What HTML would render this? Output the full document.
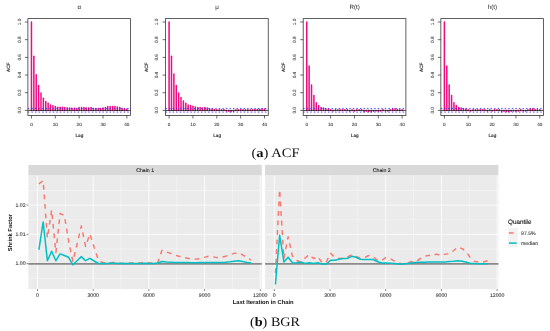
<!DOCTYPE html>
<html lang="en"><head><meta charset="utf-8"><title>Figure: ACF and BGR diagnostics</title>
<style>
html,body{margin:0;padding:0;background:#fff;}
body{width:550px;height:331px;overflow:hidden;}
svg{display:block;}
text{font-family:"Liberation Sans", Arial, Helvetica, sans-serif;text-rendering:geometricPrecision;}
.cap{font-family:"Liberation Serif", "Times New Roman", serif;font-size:13px;fill:#111;}
.ax{font-size:4.65px;fill:#3a3a3a;stroke:#3a3a3a;stroke-width:0.08px;}
.lab{font-size:4.7px;fill:#222;stroke:#222;stroke-width:0.15px;}
.ttl{font-size:6.2px;fill:#222;}
.gt{font-size:5.2px;fill:#444;stroke:#444;stroke-width:0.12px;}
.gb{font-size:5.8px;font-weight:bold;fill:#111;}
.st{font-size:5.2px;fill:#1a1a1a;stroke:#1a1a1a;stroke-width:0.1px;}
</style></head><body>
<svg width="550" height="331" viewBox="0 0 550 331">
<rect width="550" height="331" fill="#fff"/>
<defs><filter id="soft" x="0" y="0" width="550" height="331" filterUnits="userSpaceOnUse"><feGaussianBlur stdDeviation="0.32"/></filter></defs>
<g filter="url(#soft)">

<g>
<text class="ttl" x="79.4" y="9.2" text-anchor="middle">α</text>
<line x1="31.45" y1="22.00" x2="31.45" y2="110.40" stroke="#ee0a80" stroke-width="1.5" stroke-linecap="round"/>
<line x1="33.84" y1="56.30" x2="33.84" y2="110.40" stroke="#ee0a80" stroke-width="1.5" stroke-linecap="round"/>
<line x1="36.22" y1="74.86" x2="36.22" y2="110.40" stroke="#ee0a80" stroke-width="1.5" stroke-linecap="round"/>
<line x1="38.60" y1="85.47" x2="38.60" y2="110.40" stroke="#ee0a80" stroke-width="1.5" stroke-linecap="round"/>
<line x1="40.99" y1="92.99" x2="40.99" y2="110.40" stroke="#ee0a80" stroke-width="1.5" stroke-linecap="round"/>
<line x1="43.38" y1="98.29" x2="43.38" y2="110.40" stroke="#ee0a80" stroke-width="1.5" stroke-linecap="round"/>
<line x1="45.76" y1="101.38" x2="45.76" y2="110.40" stroke="#ee0a80" stroke-width="1.5" stroke-linecap="round"/>
<line x1="48.14" y1="103.33" x2="48.14" y2="110.40" stroke="#ee0a80" stroke-width="1.5" stroke-linecap="round"/>
<line x1="50.53" y1="105.10" x2="50.53" y2="110.40" stroke="#ee0a80" stroke-width="1.5" stroke-linecap="round"/>
<line x1="52.91" y1="105.63" x2="52.91" y2="110.40" stroke="#ee0a80" stroke-width="1.5" stroke-linecap="round"/>
<line x1="55.30" y1="106.51" x2="55.30" y2="110.40" stroke="#ee0a80" stroke-width="1.5" stroke-linecap="round"/>
<line x1="57.69" y1="107.13" x2="57.69" y2="110.40" stroke="#ee0a80" stroke-width="1.5" stroke-linecap="round"/>
<line x1="60.07" y1="107.22" x2="60.07" y2="110.40" stroke="#ee0a80" stroke-width="1.5" stroke-linecap="round"/>
<line x1="62.45" y1="107.22" x2="62.45" y2="110.40" stroke="#ee0a80" stroke-width="1.5" stroke-linecap="round"/>
<line x1="64.84" y1="107.57" x2="64.84" y2="110.40" stroke="#ee0a80" stroke-width="1.5" stroke-linecap="round"/>
<line x1="67.22" y1="107.84" x2="67.22" y2="110.40" stroke="#ee0a80" stroke-width="1.5" stroke-linecap="round"/>
<line x1="69.61" y1="108.01" x2="69.61" y2="110.40" stroke="#ee0a80" stroke-width="1.5" stroke-linecap="round"/>
<line x1="71.99" y1="108.28" x2="71.99" y2="110.40" stroke="#ee0a80" stroke-width="1.5" stroke-linecap="round"/>
<line x1="74.38" y1="108.28" x2="74.38" y2="110.40" stroke="#ee0a80" stroke-width="1.5" stroke-linecap="round"/>
<line x1="76.77" y1="108.54" x2="76.77" y2="110.40" stroke="#ee0a80" stroke-width="1.5" stroke-linecap="round"/>
<line x1="79.15" y1="107.39" x2="79.15" y2="110.40" stroke="#ee0a80" stroke-width="1.5" stroke-linecap="round"/>
<line x1="81.53" y1="107.39" x2="81.53" y2="110.40" stroke="#ee0a80" stroke-width="1.5" stroke-linecap="round"/>
<line x1="83.92" y1="107.57" x2="83.92" y2="110.40" stroke="#ee0a80" stroke-width="1.5" stroke-linecap="round"/>
<line x1="86.30" y1="108.10" x2="86.30" y2="110.40" stroke="#ee0a80" stroke-width="1.5" stroke-linecap="round"/>
<line x1="88.69" y1="108.10" x2="88.69" y2="110.40" stroke="#ee0a80" stroke-width="1.5" stroke-linecap="round"/>
<line x1="91.07" y1="107.57" x2="91.07" y2="110.40" stroke="#ee0a80" stroke-width="1.5" stroke-linecap="round"/>
<line x1="93.46" y1="108.46" x2="93.46" y2="110.40" stroke="#ee0a80" stroke-width="1.5" stroke-linecap="round"/>
<line x1="95.84" y1="108.46" x2="95.84" y2="110.40" stroke="#ee0a80" stroke-width="1.5" stroke-linecap="round"/>
<line x1="98.23" y1="108.46" x2="98.23" y2="110.40" stroke="#ee0a80" stroke-width="1.5" stroke-linecap="round"/>
<line x1="100.61" y1="108.46" x2="100.61" y2="110.40" stroke="#ee0a80" stroke-width="1.5" stroke-linecap="round"/>
<line x1="103.00" y1="108.01" x2="103.00" y2="110.40" stroke="#ee0a80" stroke-width="1.5" stroke-linecap="round"/>
<line x1="105.38" y1="107.39" x2="105.38" y2="110.40" stroke="#ee0a80" stroke-width="1.5" stroke-linecap="round"/>
<line x1="107.77" y1="106.51" x2="107.77" y2="110.40" stroke="#ee0a80" stroke-width="1.5" stroke-linecap="round"/>
<line x1="110.16" y1="106.51" x2="110.16" y2="110.40" stroke="#ee0a80" stroke-width="1.5" stroke-linecap="round"/>
<line x1="112.54" y1="106.51" x2="112.54" y2="110.40" stroke="#ee0a80" stroke-width="1.5" stroke-linecap="round"/>
<line x1="114.92" y1="106.51" x2="114.92" y2="110.40" stroke="#ee0a80" stroke-width="1.5" stroke-linecap="round"/>
<line x1="117.31" y1="106.95" x2="117.31" y2="110.40" stroke="#ee0a80" stroke-width="1.5" stroke-linecap="round"/>
<line x1="119.69" y1="107.39" x2="119.69" y2="110.40" stroke="#ee0a80" stroke-width="1.5" stroke-linecap="round"/>
<line x1="122.08" y1="108.46" x2="122.08" y2="110.40" stroke="#ee0a80" stroke-width="1.5" stroke-linecap="round"/>
<line x1="124.46" y1="108.99" x2="124.46" y2="110.40" stroke="#ee0a80" stroke-width="1.5" stroke-linecap="round"/>
<line x1="126.85" y1="108.99" x2="126.85" y2="110.40" stroke="#ee0a80" stroke-width="1.5" stroke-linecap="round"/>
<line x1="27.90" y1="110.4" x2="130.60" y2="110.4" stroke="#111" stroke-width="0.9" stroke-opacity="0.88"/>
<line x1="27.90" y1="108.45" x2="130.60" y2="108.45" stroke="#2a2aff" stroke-width="1.0" stroke-opacity="0.85" stroke-dasharray="1.4 2.15"/>
<line x1="27.90" y1="112.1" x2="130.60" y2="112.1" stroke="#2a2aff" stroke-width="1.0" stroke-opacity="0.85" stroke-dasharray="1.4 2.15"/>
<rect x="27.90" y="18.6" width="102.7" height="96.90" fill="none" stroke="#3a3a3a" stroke-width="0.8"/>
<line x1="24.90" y1="110.40" x2="27.90" y2="110.40" stroke="#2b2b2b" stroke-width="0.7"/>
<text class="ax" transform="translate(20.60,110.40) rotate(-90)" text-anchor="middle">0.0</text>
<line x1="24.90" y1="92.72" x2="27.90" y2="92.72" stroke="#2b2b2b" stroke-width="0.7"/>
<text class="ax" transform="translate(20.60,92.72) rotate(-90)" text-anchor="middle">0.2</text>
<line x1="24.90" y1="75.04" x2="27.90" y2="75.04" stroke="#2b2b2b" stroke-width="0.7"/>
<text class="ax" transform="translate(20.60,75.04) rotate(-90)" text-anchor="middle">0.4</text>
<line x1="24.90" y1="57.36" x2="27.90" y2="57.36" stroke="#2b2b2b" stroke-width="0.7"/>
<text class="ax" transform="translate(20.60,57.36) rotate(-90)" text-anchor="middle">0.6</text>
<line x1="24.90" y1="39.68" x2="27.90" y2="39.68" stroke="#2b2b2b" stroke-width="0.7"/>
<text class="ax" transform="translate(20.60,39.68) rotate(-90)" text-anchor="middle">0.8</text>
<line x1="24.90" y1="22.00" x2="27.90" y2="22.00" stroke="#2b2b2b" stroke-width="0.7"/>
<text class="ax" transform="translate(20.60,22.00) rotate(-90)" text-anchor="middle">1.0</text>
<line x1="31.45" y1="115.5" x2="31.45" y2="118.5" stroke="#2b2b2b" stroke-width="0.7"/>
<text class="ax" x="31.45" y="125.70" text-anchor="middle">0</text>
<line x1="55.30" y1="115.5" x2="55.30" y2="118.5" stroke="#2b2b2b" stroke-width="0.7"/>
<text class="ax" x="55.30" y="125.70" text-anchor="middle">10</text>
<line x1="79.15" y1="115.5" x2="79.15" y2="118.5" stroke="#2b2b2b" stroke-width="0.7"/>
<text class="ax" x="79.15" y="125.70" text-anchor="middle">20</text>
<line x1="103.00" y1="115.5" x2="103.00" y2="118.5" stroke="#2b2b2b" stroke-width="0.7"/>
<text class="ax" x="103.00" y="125.70" text-anchor="middle">30</text>
<line x1="126.85" y1="115.5" x2="126.85" y2="118.5" stroke="#2b2b2b" stroke-width="0.7"/>
<text class="ax" x="126.85" y="125.70" text-anchor="middle">40</text>
<text class="lab" x="79.4" y="137.3" text-anchor="middle">Lag</text>
<text class="lab" transform="translate(9.90,67.2) rotate(-90)" text-anchor="middle">ACF</text>
</g>
<g>
<text class="ttl" x="217.1" y="9.2" text-anchor="middle">μ</text>
<line x1="169.10" y1="22.00" x2="169.10" y2="110.40" stroke="#ee0a80" stroke-width="1.5" stroke-linecap="round"/>
<line x1="171.49" y1="56.30" x2="171.49" y2="110.40" stroke="#ee0a80" stroke-width="1.5" stroke-linecap="round"/>
<line x1="173.87" y1="73.98" x2="173.87" y2="110.40" stroke="#ee0a80" stroke-width="1.5" stroke-linecap="round"/>
<line x1="176.26" y1="85.47" x2="176.26" y2="110.40" stroke="#ee0a80" stroke-width="1.5" stroke-linecap="round"/>
<line x1="178.64" y1="93.07" x2="178.64" y2="110.40" stroke="#ee0a80" stroke-width="1.5" stroke-linecap="round"/>
<line x1="181.03" y1="97.49" x2="181.03" y2="110.40" stroke="#ee0a80" stroke-width="1.5" stroke-linecap="round"/>
<line x1="183.41" y1="101.12" x2="183.41" y2="110.40" stroke="#ee0a80" stroke-width="1.5" stroke-linecap="round"/>
<line x1="185.80" y1="103.15" x2="185.80" y2="110.40" stroke="#ee0a80" stroke-width="1.5" stroke-linecap="round"/>
<line x1="188.18" y1="105.10" x2="188.18" y2="110.40" stroke="#ee0a80" stroke-width="1.5" stroke-linecap="round"/>
<line x1="190.57" y1="105.54" x2="190.57" y2="110.40" stroke="#ee0a80" stroke-width="1.5" stroke-linecap="round"/>
<line x1="192.95" y1="106.16" x2="192.95" y2="110.40" stroke="#ee0a80" stroke-width="1.5" stroke-linecap="round"/>
<line x1="195.34" y1="107.04" x2="195.34" y2="110.40" stroke="#ee0a80" stroke-width="1.5" stroke-linecap="round"/>
<line x1="197.72" y1="107.57" x2="197.72" y2="110.40" stroke="#ee0a80" stroke-width="1.5" stroke-linecap="round"/>
<line x1="200.11" y1="107.57" x2="200.11" y2="110.40" stroke="#ee0a80" stroke-width="1.5" stroke-linecap="round"/>
<line x1="202.49" y1="107.92" x2="202.49" y2="110.40" stroke="#ee0a80" stroke-width="1.5" stroke-linecap="round"/>
<line x1="204.88" y1="107.57" x2="204.88" y2="110.40" stroke="#ee0a80" stroke-width="1.5" stroke-linecap="round"/>
<line x1="207.26" y1="107.92" x2="207.26" y2="110.40" stroke="#ee0a80" stroke-width="1.5" stroke-linecap="round"/>
<line x1="209.65" y1="108.63" x2="209.65" y2="110.40" stroke="#ee0a80" stroke-width="1.5" stroke-linecap="round"/>
<line x1="212.03" y1="109.16" x2="212.03" y2="110.40" stroke="#ee0a80" stroke-width="1.5" stroke-linecap="round"/>
<line x1="214.42" y1="109.60" x2="214.42" y2="110.40" stroke="#ee0a80" stroke-width="1.5" stroke-linecap="round"/>
<line x1="216.80" y1="109.78" x2="216.80" y2="110.40" stroke="#ee0a80" stroke-width="1.5" stroke-linecap="round"/>
<line x1="219.19" y1="109.78" x2="219.19" y2="110.40" stroke="#ee0a80" stroke-width="1.5" stroke-linecap="round"/>
<line x1="221.57" y1="109.78" x2="221.57" y2="110.40" stroke="#ee0a80" stroke-width="1.5" stroke-linecap="round"/>
<line x1="223.96" y1="109.78" x2="223.96" y2="110.40" stroke="#ee0a80" stroke-width="1.5" stroke-linecap="round"/>
<line x1="226.34" y1="111.02" x2="226.34" y2="110.40" stroke="#ee0a80" stroke-width="1.5" stroke-linecap="round"/>
<line x1="228.73" y1="111.20" x2="228.73" y2="110.40" stroke="#ee0a80" stroke-width="1.5" stroke-linecap="round"/>
<line x1="231.11" y1="111.64" x2="231.11" y2="110.40" stroke="#ee0a80" stroke-width="1.5" stroke-linecap="round"/>
<line x1="233.50" y1="111.20" x2="233.50" y2="110.40" stroke="#ee0a80" stroke-width="1.5" stroke-linecap="round"/>
<line x1="235.88" y1="109.78" x2="235.88" y2="110.40" stroke="#ee0a80" stroke-width="1.5" stroke-linecap="round"/>
<line x1="238.27" y1="109.78" x2="238.27" y2="110.40" stroke="#ee0a80" stroke-width="1.5" stroke-linecap="round"/>
<line x1="240.65" y1="109.78" x2="240.65" y2="110.40" stroke="#ee0a80" stroke-width="1.5" stroke-linecap="round"/>
<line x1="243.04" y1="109.78" x2="243.04" y2="110.40" stroke="#ee0a80" stroke-width="1.5" stroke-linecap="round"/>
<line x1="245.42" y1="109.78" x2="245.42" y2="110.40" stroke="#ee0a80" stroke-width="1.5" stroke-linecap="round"/>
<line x1="247.81" y1="109.78" x2="247.81" y2="110.40" stroke="#ee0a80" stroke-width="1.5" stroke-linecap="round"/>
<line x1="250.19" y1="109.78" x2="250.19" y2="110.40" stroke="#ee0a80" stroke-width="1.5" stroke-linecap="round"/>
<line x1="252.58" y1="109.78" x2="252.58" y2="110.40" stroke="#ee0a80" stroke-width="1.5" stroke-linecap="round"/>
<line x1="254.96" y1="109.60" x2="254.96" y2="110.40" stroke="#ee0a80" stroke-width="1.5" stroke-linecap="round"/>
<line x1="257.35" y1="109.60" x2="257.35" y2="110.40" stroke="#ee0a80" stroke-width="1.5" stroke-linecap="round"/>
<line x1="259.73" y1="109.16" x2="259.73" y2="110.40" stroke="#ee0a80" stroke-width="1.5" stroke-linecap="round"/>
<line x1="262.12" y1="108.99" x2="262.12" y2="110.40" stroke="#ee0a80" stroke-width="1.5" stroke-linecap="round"/>
<line x1="264.50" y1="108.99" x2="264.50" y2="110.40" stroke="#ee0a80" stroke-width="1.5" stroke-linecap="round"/>
<line x1="165.55" y1="110.4" x2="268.25" y2="110.4" stroke="#111" stroke-width="0.9" stroke-opacity="0.88"/>
<line x1="165.55" y1="108.45" x2="268.25" y2="108.45" stroke="#2a2aff" stroke-width="1.0" stroke-opacity="0.85" stroke-dasharray="1.4 2.15"/>
<line x1="165.55" y1="112.1" x2="268.25" y2="112.1" stroke="#2a2aff" stroke-width="1.0" stroke-opacity="0.85" stroke-dasharray="1.4 2.15"/>
<rect x="165.55" y="18.6" width="102.7" height="96.90" fill="none" stroke="#3a3a3a" stroke-width="0.8"/>
<line x1="162.55" y1="110.40" x2="165.55" y2="110.40" stroke="#2b2b2b" stroke-width="0.7"/>
<text class="ax" transform="translate(158.25,110.40) rotate(-90)" text-anchor="middle">0.0</text>
<line x1="162.55" y1="92.72" x2="165.55" y2="92.72" stroke="#2b2b2b" stroke-width="0.7"/>
<text class="ax" transform="translate(158.25,92.72) rotate(-90)" text-anchor="middle">0.2</text>
<line x1="162.55" y1="75.04" x2="165.55" y2="75.04" stroke="#2b2b2b" stroke-width="0.7"/>
<text class="ax" transform="translate(158.25,75.04) rotate(-90)" text-anchor="middle">0.4</text>
<line x1="162.55" y1="57.36" x2="165.55" y2="57.36" stroke="#2b2b2b" stroke-width="0.7"/>
<text class="ax" transform="translate(158.25,57.36) rotate(-90)" text-anchor="middle">0.6</text>
<line x1="162.55" y1="39.68" x2="165.55" y2="39.68" stroke="#2b2b2b" stroke-width="0.7"/>
<text class="ax" transform="translate(158.25,39.68) rotate(-90)" text-anchor="middle">0.8</text>
<line x1="162.55" y1="22.00" x2="165.55" y2="22.00" stroke="#2b2b2b" stroke-width="0.7"/>
<text class="ax" transform="translate(158.25,22.00) rotate(-90)" text-anchor="middle">1.0</text>
<line x1="169.10" y1="115.5" x2="169.10" y2="118.5" stroke="#2b2b2b" stroke-width="0.7"/>
<text class="ax" x="169.10" y="125.70" text-anchor="middle">0</text>
<line x1="192.95" y1="115.5" x2="192.95" y2="118.5" stroke="#2b2b2b" stroke-width="0.7"/>
<text class="ax" x="192.95" y="125.70" text-anchor="middle">10</text>
<line x1="216.80" y1="115.5" x2="216.80" y2="118.5" stroke="#2b2b2b" stroke-width="0.7"/>
<text class="ax" x="216.80" y="125.70" text-anchor="middle">20</text>
<line x1="240.65" y1="115.5" x2="240.65" y2="118.5" stroke="#2b2b2b" stroke-width="0.7"/>
<text class="ax" x="240.65" y="125.70" text-anchor="middle">30</text>
<line x1="264.50" y1="115.5" x2="264.50" y2="118.5" stroke="#2b2b2b" stroke-width="0.7"/>
<text class="ax" x="264.50" y="125.70" text-anchor="middle">40</text>
<text class="lab" x="217.1" y="137.3" text-anchor="middle">Lag</text>
<text class="lab" transform="translate(147.55,67.2) rotate(-90)" text-anchor="middle">ACF</text>
</g>
<g>
<text class="ttl" x="354.7" y="9.2" text-anchor="middle">R(t)</text>
<line x1="306.75" y1="22.00" x2="306.75" y2="110.40" stroke="#ee0a80" stroke-width="1.5" stroke-linecap="round"/>
<line x1="309.13" y1="66.02" x2="309.13" y2="110.40" stroke="#ee0a80" stroke-width="1.5" stroke-linecap="round"/>
<line x1="311.52" y1="85.12" x2="311.52" y2="110.40" stroke="#ee0a80" stroke-width="1.5" stroke-linecap="round"/>
<line x1="313.90" y1="95.55" x2="313.90" y2="110.40" stroke="#ee0a80" stroke-width="1.5" stroke-linecap="round"/>
<line x1="316.29" y1="102.71" x2="316.29" y2="110.40" stroke="#ee0a80" stroke-width="1.5" stroke-linecap="round"/>
<line x1="318.68" y1="105.54" x2="318.68" y2="110.40" stroke="#ee0a80" stroke-width="1.5" stroke-linecap="round"/>
<line x1="321.06" y1="107.57" x2="321.06" y2="110.40" stroke="#ee0a80" stroke-width="1.5" stroke-linecap="round"/>
<line x1="323.44" y1="107.92" x2="323.44" y2="110.40" stroke="#ee0a80" stroke-width="1.5" stroke-linecap="round"/>
<line x1="325.83" y1="108.63" x2="325.83" y2="110.40" stroke="#ee0a80" stroke-width="1.5" stroke-linecap="round"/>
<line x1="328.21" y1="108.99" x2="328.21" y2="110.40" stroke="#ee0a80" stroke-width="1.5" stroke-linecap="round"/>
<line x1="330.60" y1="109.78" x2="330.60" y2="110.40" stroke="#ee0a80" stroke-width="1.5" stroke-linecap="round"/>
<line x1="332.99" y1="111.02" x2="332.99" y2="110.40" stroke="#ee0a80" stroke-width="1.5" stroke-linecap="round"/>
<line x1="335.37" y1="109.78" x2="335.37" y2="110.40" stroke="#ee0a80" stroke-width="1.5" stroke-linecap="round"/>
<line x1="337.75" y1="109.78" x2="337.75" y2="110.40" stroke="#ee0a80" stroke-width="1.5" stroke-linecap="round"/>
<line x1="340.14" y1="109.78" x2="340.14" y2="110.40" stroke="#ee0a80" stroke-width="1.5" stroke-linecap="round"/>
<line x1="342.52" y1="109.78" x2="342.52" y2="110.40" stroke="#ee0a80" stroke-width="1.5" stroke-linecap="round"/>
<line x1="344.91" y1="109.78" x2="344.91" y2="110.40" stroke="#ee0a80" stroke-width="1.5" stroke-linecap="round"/>
<line x1="347.30" y1="109.78" x2="347.30" y2="110.40" stroke="#ee0a80" stroke-width="1.5" stroke-linecap="round"/>
<line x1="349.68" y1="111.02" x2="349.68" y2="110.40" stroke="#ee0a80" stroke-width="1.5" stroke-linecap="round"/>
<line x1="352.06" y1="109.78" x2="352.06" y2="110.40" stroke="#ee0a80" stroke-width="1.5" stroke-linecap="round"/>
<line x1="354.45" y1="111.02" x2="354.45" y2="110.40" stroke="#ee0a80" stroke-width="1.5" stroke-linecap="round"/>
<line x1="356.83" y1="109.78" x2="356.83" y2="110.40" stroke="#ee0a80" stroke-width="1.5" stroke-linecap="round"/>
<line x1="359.22" y1="109.78" x2="359.22" y2="110.40" stroke="#ee0a80" stroke-width="1.5" stroke-linecap="round"/>
<line x1="361.61" y1="109.78" x2="361.61" y2="110.40" stroke="#ee0a80" stroke-width="1.5" stroke-linecap="round"/>
<line x1="363.99" y1="111.64" x2="363.99" y2="110.40" stroke="#ee0a80" stroke-width="1.5" stroke-linecap="round"/>
<line x1="366.38" y1="111.20" x2="366.38" y2="110.40" stroke="#ee0a80" stroke-width="1.5" stroke-linecap="round"/>
<line x1="368.76" y1="111.64" x2="368.76" y2="110.40" stroke="#ee0a80" stroke-width="1.5" stroke-linecap="round"/>
<line x1="371.14" y1="111.81" x2="371.14" y2="110.40" stroke="#ee0a80" stroke-width="1.5" stroke-linecap="round"/>
<line x1="373.53" y1="111.20" x2="373.53" y2="110.40" stroke="#ee0a80" stroke-width="1.5" stroke-linecap="round"/>
<line x1="375.91" y1="111.02" x2="375.91" y2="110.40" stroke="#ee0a80" stroke-width="1.5" stroke-linecap="round"/>
<line x1="378.30" y1="111.20" x2="378.30" y2="110.40" stroke="#ee0a80" stroke-width="1.5" stroke-linecap="round"/>
<line x1="380.69" y1="111.02" x2="380.69" y2="110.40" stroke="#ee0a80" stroke-width="1.5" stroke-linecap="round"/>
<line x1="383.07" y1="109.78" x2="383.07" y2="110.40" stroke="#ee0a80" stroke-width="1.5" stroke-linecap="round"/>
<line x1="385.45" y1="111.02" x2="385.45" y2="110.40" stroke="#ee0a80" stroke-width="1.5" stroke-linecap="round"/>
<line x1="387.84" y1="111.02" x2="387.84" y2="110.40" stroke="#ee0a80" stroke-width="1.5" stroke-linecap="round"/>
<line x1="390.23" y1="109.78" x2="390.23" y2="110.40" stroke="#ee0a80" stroke-width="1.5" stroke-linecap="round"/>
<line x1="392.61" y1="108.99" x2="392.61" y2="110.40" stroke="#ee0a80" stroke-width="1.5" stroke-linecap="round"/>
<line x1="395.00" y1="108.63" x2="395.00" y2="110.40" stroke="#ee0a80" stroke-width="1.5" stroke-linecap="round"/>
<line x1="397.38" y1="109.60" x2="397.38" y2="110.40" stroke="#ee0a80" stroke-width="1.5" stroke-linecap="round"/>
<line x1="399.76" y1="109.78" x2="399.76" y2="110.40" stroke="#ee0a80" stroke-width="1.5" stroke-linecap="round"/>
<line x1="402.15" y1="109.78" x2="402.15" y2="110.40" stroke="#ee0a80" stroke-width="1.5" stroke-linecap="round"/>
<line x1="303.20" y1="110.4" x2="405.90" y2="110.4" stroke="#111" stroke-width="0.9" stroke-opacity="0.88"/>
<line x1="303.20" y1="108.45" x2="405.90" y2="108.45" stroke="#2a2aff" stroke-width="1.0" stroke-opacity="0.85" stroke-dasharray="1.4 2.15"/>
<line x1="303.20" y1="112.1" x2="405.90" y2="112.1" stroke="#2a2aff" stroke-width="1.0" stroke-opacity="0.85" stroke-dasharray="1.4 2.15"/>
<rect x="303.20" y="18.6" width="102.7" height="96.90" fill="none" stroke="#3a3a3a" stroke-width="0.8"/>
<line x1="300.20" y1="110.40" x2="303.20" y2="110.40" stroke="#2b2b2b" stroke-width="0.7"/>
<text class="ax" transform="translate(295.90,110.40) rotate(-90)" text-anchor="middle">0.0</text>
<line x1="300.20" y1="92.72" x2="303.20" y2="92.72" stroke="#2b2b2b" stroke-width="0.7"/>
<text class="ax" transform="translate(295.90,92.72) rotate(-90)" text-anchor="middle">0.2</text>
<line x1="300.20" y1="75.04" x2="303.20" y2="75.04" stroke="#2b2b2b" stroke-width="0.7"/>
<text class="ax" transform="translate(295.90,75.04) rotate(-90)" text-anchor="middle">0.4</text>
<line x1="300.20" y1="57.36" x2="303.20" y2="57.36" stroke="#2b2b2b" stroke-width="0.7"/>
<text class="ax" transform="translate(295.90,57.36) rotate(-90)" text-anchor="middle">0.6</text>
<line x1="300.20" y1="39.68" x2="303.20" y2="39.68" stroke="#2b2b2b" stroke-width="0.7"/>
<text class="ax" transform="translate(295.90,39.68) rotate(-90)" text-anchor="middle">0.8</text>
<line x1="300.20" y1="22.00" x2="303.20" y2="22.00" stroke="#2b2b2b" stroke-width="0.7"/>
<text class="ax" transform="translate(295.90,22.00) rotate(-90)" text-anchor="middle">1.0</text>
<line x1="306.75" y1="115.5" x2="306.75" y2="118.5" stroke="#2b2b2b" stroke-width="0.7"/>
<text class="ax" x="306.75" y="125.70" text-anchor="middle">0</text>
<line x1="330.60" y1="115.5" x2="330.60" y2="118.5" stroke="#2b2b2b" stroke-width="0.7"/>
<text class="ax" x="330.60" y="125.70" text-anchor="middle">10</text>
<line x1="354.45" y1="115.5" x2="354.45" y2="118.5" stroke="#2b2b2b" stroke-width="0.7"/>
<text class="ax" x="354.45" y="125.70" text-anchor="middle">20</text>
<line x1="378.30" y1="115.5" x2="378.30" y2="118.5" stroke="#2b2b2b" stroke-width="0.7"/>
<text class="ax" x="378.30" y="125.70" text-anchor="middle">30</text>
<line x1="402.15" y1="115.5" x2="402.15" y2="118.5" stroke="#2b2b2b" stroke-width="0.7"/>
<text class="ax" x="402.15" y="125.70" text-anchor="middle">40</text>
<text class="lab" x="354.7" y="137.3" text-anchor="middle">Lag</text>
<text class="lab" transform="translate(285.20,67.2) rotate(-90)" text-anchor="middle">ACF</text>
</g>
<g>
<text class="ttl" x="492.4" y="9.2" text-anchor="middle">h(t)</text>
<line x1="444.40" y1="22.00" x2="444.40" y2="110.40" stroke="#ee0a80" stroke-width="1.5" stroke-linecap="round"/>
<line x1="446.79" y1="66.02" x2="446.79" y2="110.40" stroke="#ee0a80" stroke-width="1.5" stroke-linecap="round"/>
<line x1="449.17" y1="85.12" x2="449.17" y2="110.40" stroke="#ee0a80" stroke-width="1.5" stroke-linecap="round"/>
<line x1="451.56" y1="95.55" x2="451.56" y2="110.40" stroke="#ee0a80" stroke-width="1.5" stroke-linecap="round"/>
<line x1="453.94" y1="102.71" x2="453.94" y2="110.40" stroke="#ee0a80" stroke-width="1.5" stroke-linecap="round"/>
<line x1="456.33" y1="105.54" x2="456.33" y2="110.40" stroke="#ee0a80" stroke-width="1.5" stroke-linecap="round"/>
<line x1="458.71" y1="107.57" x2="458.71" y2="110.40" stroke="#ee0a80" stroke-width="1.5" stroke-linecap="round"/>
<line x1="461.10" y1="107.92" x2="461.10" y2="110.40" stroke="#ee0a80" stroke-width="1.5" stroke-linecap="round"/>
<line x1="463.48" y1="108.63" x2="463.48" y2="110.40" stroke="#ee0a80" stroke-width="1.5" stroke-linecap="round"/>
<line x1="465.87" y1="108.99" x2="465.87" y2="110.40" stroke="#ee0a80" stroke-width="1.5" stroke-linecap="round"/>
<line x1="468.25" y1="109.78" x2="468.25" y2="110.40" stroke="#ee0a80" stroke-width="1.5" stroke-linecap="round"/>
<line x1="470.64" y1="111.02" x2="470.64" y2="110.40" stroke="#ee0a80" stroke-width="1.5" stroke-linecap="round"/>
<line x1="473.02" y1="109.78" x2="473.02" y2="110.40" stroke="#ee0a80" stroke-width="1.5" stroke-linecap="round"/>
<line x1="475.41" y1="109.78" x2="475.41" y2="110.40" stroke="#ee0a80" stroke-width="1.5" stroke-linecap="round"/>
<line x1="477.79" y1="109.78" x2="477.79" y2="110.40" stroke="#ee0a80" stroke-width="1.5" stroke-linecap="round"/>
<line x1="480.18" y1="109.78" x2="480.18" y2="110.40" stroke="#ee0a80" stroke-width="1.5" stroke-linecap="round"/>
<line x1="482.56" y1="109.78" x2="482.56" y2="110.40" stroke="#ee0a80" stroke-width="1.5" stroke-linecap="round"/>
<line x1="484.95" y1="109.78" x2="484.95" y2="110.40" stroke="#ee0a80" stroke-width="1.5" stroke-linecap="round"/>
<line x1="487.33" y1="111.02" x2="487.33" y2="110.40" stroke="#ee0a80" stroke-width="1.5" stroke-linecap="round"/>
<line x1="489.72" y1="109.78" x2="489.72" y2="110.40" stroke="#ee0a80" stroke-width="1.5" stroke-linecap="round"/>
<line x1="492.10" y1="111.02" x2="492.10" y2="110.40" stroke="#ee0a80" stroke-width="1.5" stroke-linecap="round"/>
<line x1="494.49" y1="109.78" x2="494.49" y2="110.40" stroke="#ee0a80" stroke-width="1.5" stroke-linecap="round"/>
<line x1="496.87" y1="109.78" x2="496.87" y2="110.40" stroke="#ee0a80" stroke-width="1.5" stroke-linecap="round"/>
<line x1="499.26" y1="109.78" x2="499.26" y2="110.40" stroke="#ee0a80" stroke-width="1.5" stroke-linecap="round"/>
<line x1="501.64" y1="111.64" x2="501.64" y2="110.40" stroke="#ee0a80" stroke-width="1.5" stroke-linecap="round"/>
<line x1="504.03" y1="111.20" x2="504.03" y2="110.40" stroke="#ee0a80" stroke-width="1.5" stroke-linecap="round"/>
<line x1="506.41" y1="111.64" x2="506.41" y2="110.40" stroke="#ee0a80" stroke-width="1.5" stroke-linecap="round"/>
<line x1="508.80" y1="111.81" x2="508.80" y2="110.40" stroke="#ee0a80" stroke-width="1.5" stroke-linecap="round"/>
<line x1="511.18" y1="111.20" x2="511.18" y2="110.40" stroke="#ee0a80" stroke-width="1.5" stroke-linecap="round"/>
<line x1="513.57" y1="111.02" x2="513.57" y2="110.40" stroke="#ee0a80" stroke-width="1.5" stroke-linecap="round"/>
<line x1="515.95" y1="111.20" x2="515.95" y2="110.40" stroke="#ee0a80" stroke-width="1.5" stroke-linecap="round"/>
<line x1="518.34" y1="111.02" x2="518.34" y2="110.40" stroke="#ee0a80" stroke-width="1.5" stroke-linecap="round"/>
<line x1="520.72" y1="109.78" x2="520.72" y2="110.40" stroke="#ee0a80" stroke-width="1.5" stroke-linecap="round"/>
<line x1="523.11" y1="111.02" x2="523.11" y2="110.40" stroke="#ee0a80" stroke-width="1.5" stroke-linecap="round"/>
<line x1="525.49" y1="111.02" x2="525.49" y2="110.40" stroke="#ee0a80" stroke-width="1.5" stroke-linecap="round"/>
<line x1="527.88" y1="109.78" x2="527.88" y2="110.40" stroke="#ee0a80" stroke-width="1.5" stroke-linecap="round"/>
<line x1="530.26" y1="108.99" x2="530.26" y2="110.40" stroke="#ee0a80" stroke-width="1.5" stroke-linecap="round"/>
<line x1="532.64" y1="108.63" x2="532.64" y2="110.40" stroke="#ee0a80" stroke-width="1.5" stroke-linecap="round"/>
<line x1="535.03" y1="109.60" x2="535.03" y2="110.40" stroke="#ee0a80" stroke-width="1.5" stroke-linecap="round"/>
<line x1="537.41" y1="109.78" x2="537.41" y2="110.40" stroke="#ee0a80" stroke-width="1.5" stroke-linecap="round"/>
<line x1="539.80" y1="109.78" x2="539.80" y2="110.40" stroke="#ee0a80" stroke-width="1.5" stroke-linecap="round"/>
<line x1="440.85" y1="110.4" x2="543.55" y2="110.4" stroke="#111" stroke-width="0.9" stroke-opacity="0.88"/>
<line x1="440.85" y1="108.45" x2="543.55" y2="108.45" stroke="#2a2aff" stroke-width="1.0" stroke-opacity="0.85" stroke-dasharray="1.4 2.15"/>
<line x1="440.85" y1="112.1" x2="543.55" y2="112.1" stroke="#2a2aff" stroke-width="1.0" stroke-opacity="0.85" stroke-dasharray="1.4 2.15"/>
<rect x="440.85" y="18.6" width="102.7" height="96.90" fill="none" stroke="#3a3a3a" stroke-width="0.8"/>
<line x1="437.85" y1="110.40" x2="440.85" y2="110.40" stroke="#2b2b2b" stroke-width="0.7"/>
<text class="ax" transform="translate(433.55,110.40) rotate(-90)" text-anchor="middle">0.0</text>
<line x1="437.85" y1="92.72" x2="440.85" y2="92.72" stroke="#2b2b2b" stroke-width="0.7"/>
<text class="ax" transform="translate(433.55,92.72) rotate(-90)" text-anchor="middle">0.2</text>
<line x1="437.85" y1="75.04" x2="440.85" y2="75.04" stroke="#2b2b2b" stroke-width="0.7"/>
<text class="ax" transform="translate(433.55,75.04) rotate(-90)" text-anchor="middle">0.4</text>
<line x1="437.85" y1="57.36" x2="440.85" y2="57.36" stroke="#2b2b2b" stroke-width="0.7"/>
<text class="ax" transform="translate(433.55,57.36) rotate(-90)" text-anchor="middle">0.6</text>
<line x1="437.85" y1="39.68" x2="440.85" y2="39.68" stroke="#2b2b2b" stroke-width="0.7"/>
<text class="ax" transform="translate(433.55,39.68) rotate(-90)" text-anchor="middle">0.8</text>
<line x1="437.85" y1="22.00" x2="440.85" y2="22.00" stroke="#2b2b2b" stroke-width="0.7"/>
<text class="ax" transform="translate(433.55,22.00) rotate(-90)" text-anchor="middle">1.0</text>
<line x1="444.40" y1="115.5" x2="444.40" y2="118.5" stroke="#2b2b2b" stroke-width="0.7"/>
<text class="ax" x="444.40" y="125.70" text-anchor="middle">0</text>
<line x1="468.25" y1="115.5" x2="468.25" y2="118.5" stroke="#2b2b2b" stroke-width="0.7"/>
<text class="ax" x="468.25" y="125.70" text-anchor="middle">10</text>
<line x1="492.10" y1="115.5" x2="492.10" y2="118.5" stroke="#2b2b2b" stroke-width="0.7"/>
<text class="ax" x="492.10" y="125.70" text-anchor="middle">20</text>
<line x1="515.95" y1="115.5" x2="515.95" y2="118.5" stroke="#2b2b2b" stroke-width="0.7"/>
<text class="ax" x="515.95" y="125.70" text-anchor="middle">30</text>
<line x1="539.80" y1="115.5" x2="539.80" y2="118.5" stroke="#2b2b2b" stroke-width="0.7"/>
<text class="ax" x="539.80" y="125.70" text-anchor="middle">40</text>
<text class="lab" x="492.4" y="137.3" text-anchor="middle">Lag</text>
<text class="lab" transform="translate(422.85,67.2) rotate(-90)" text-anchor="middle">ACF</text>
</g>
<text class="cap" transform="translate(275.5,156.6) scale(1.12,1)" text-anchor="middle"><tspan>(</tspan><tspan font-weight="bold">a</tspan><tspan>) ACF</tspan></text>
<text class="cap" transform="translate(275,325.6) scale(1.09,1)" text-anchor="middle"><tspan>(</tspan><tspan font-weight="bold">b</tspan><tspan>) BGR</tspan></text>
<g>
<rect x="28.4" y="164.9" width="233.40" height="10.60" fill="#d9d9d9"/>
<rect x="28.4" y="175.5" width="233.40" height="113.60" fill="#ebebeb"/>
<text class="st" x="145.10" y="172" text-anchor="middle">Chain 1</text>
<line x1="65.35" y1="175.5" x2="65.35" y2="289.1" stroke="#fff" stroke-width="0.42" stroke-opacity="0.9"/>
<line x1="121.05" y1="175.5" x2="121.05" y2="289.1" stroke="#fff" stroke-width="0.42" stroke-opacity="0.9"/>
<line x1="176.75" y1="175.5" x2="176.75" y2="289.1" stroke="#fff" stroke-width="0.42" stroke-opacity="0.9"/>
<line x1="232.45" y1="175.5" x2="232.45" y2="289.1" stroke="#fff" stroke-width="0.42" stroke-opacity="0.9"/>
<line x1="28.4" y1="278.35" x2="261.8" y2="278.35" stroke="#fff" stroke-width="0.42" stroke-opacity="0.9"/>
<line x1="28.4" y1="249.05" x2="261.8" y2="249.05" stroke="#fff" stroke-width="0.42" stroke-opacity="0.9"/>
<line x1="28.4" y1="219.75" x2="261.8" y2="219.75" stroke="#fff" stroke-width="0.42" stroke-opacity="0.9"/>
<line x1="28.4" y1="190.45" x2="261.8" y2="190.45" stroke="#fff" stroke-width="0.42" stroke-opacity="0.9"/>
<line x1="37.50" y1="175.5" x2="37.50" y2="289.1" stroke="#fff" stroke-width="0.8"/>
<line x1="37.50" y1="289.1" x2="37.50" y2="291.0" stroke="#333" stroke-width="0.6"/>
<text class="gt" x="37.50" y="296.70" text-anchor="middle">0</text>
<line x1="93.20" y1="175.5" x2="93.20" y2="289.1" stroke="#fff" stroke-width="0.8"/>
<line x1="93.20" y1="289.1" x2="93.20" y2="291.0" stroke="#333" stroke-width="0.6"/>
<text class="gt" x="93.20" y="296.70" text-anchor="middle">3000</text>
<line x1="148.90" y1="175.5" x2="148.90" y2="289.1" stroke="#fff" stroke-width="0.8"/>
<line x1="148.90" y1="289.1" x2="148.90" y2="291.0" stroke="#333" stroke-width="0.6"/>
<text class="gt" x="148.90" y="296.70" text-anchor="middle">6000</text>
<line x1="204.60" y1="175.5" x2="204.60" y2="289.1" stroke="#fff" stroke-width="0.8"/>
<line x1="204.60" y1="289.1" x2="204.60" y2="291.0" stroke="#333" stroke-width="0.6"/>
<text class="gt" x="204.60" y="296.70" text-anchor="middle">9000</text>
<line x1="260.30" y1="175.5" x2="260.30" y2="289.1" stroke="#fff" stroke-width="0.8"/>
<line x1="260.30" y1="289.1" x2="260.30" y2="291.0" stroke="#333" stroke-width="0.6"/>
<text class="gt" x="260.30" y="296.70" text-anchor="middle">12000</text>
<line x1="28.4" y1="263.70" x2="261.8" y2="263.70" stroke="#fff" stroke-width="0.8"/>
<line x1="28.4" y1="234.40" x2="261.8" y2="234.40" stroke="#fff" stroke-width="0.8"/>
<line x1="28.4" y1="205.10" x2="261.8" y2="205.10" stroke="#fff" stroke-width="0.8"/>
<line x1="28.4" y1="263.9" x2="261.8" y2="263.9" stroke="#8a8a8a" stroke-width="1.7"/>
<polyline points="38.90,183.90 43.14,180.70 47.39,238.00 51.63,210.00 55.88,252.50 60.12,213.50 64.36,215.50 68.61,241.00 72.85,261.40 77.10,244.00 81.34,226.00 85.58,246.40 89.83,234.00 94.07,247.00 98.32,260.00 102.56,262.45 106.80,263.05 111.05,262.65 115.29,262.05 119.54,263.05 123.78,263.25 128.02,263.05 132.27,262.85 136.51,263.25 140.76,262.85 145.00,262.05 149.24,262.85 153.49,263.05 157.73,262.65 161.98,250.20 166.22,251.80 170.46,253.40 174.71,255.00 178.95,256.20 183.20,257.20 187.44,258.20 191.68,259.10 195.93,259.10 200.17,258.60 204.42,257.40 208.66,256.10 212.90,256.80 217.15,257.60 221.39,257.40 225.64,256.20 229.88,254.80 234.12,253.40 238.37,252.70 242.61,254.80 246.86,257.40 251.10,260.00" fill="none" stroke="#f8766d" stroke-width="1.45" stroke-dasharray="4.8 4.75" stroke-linejoin="round"/>
<polyline points="38.90,249.80 43.14,222.00 47.39,260.70 51.63,251.20 55.88,260.70 60.12,253.90 64.36,255.50 68.61,257.30 72.85,264.80 77.10,260.70 81.34,256.60 85.58,260.70 89.83,258.30 94.07,261.00 98.32,263.50 102.56,263.50 106.80,263.40 111.05,263.30 115.29,263.20 119.54,263.40 123.78,263.50 128.02,263.50 132.27,263.40 136.51,263.50 140.76,263.40 145.00,263.30 149.24,263.40 153.49,263.40 157.73,263.00 161.98,261.50 166.22,262.00 170.46,262.20 174.71,262.40 178.95,262.50 183.20,262.60 187.44,262.60 191.68,262.70 195.93,262.70 200.17,262.60 204.42,262.50 208.66,262.50 212.90,262.50 217.15,262.50 221.39,262.40 225.64,262.20 229.88,261.80 234.12,261.20 238.37,260.70 242.61,261.60 246.86,262.40 251.10,262.90" fill="none" stroke="#00bfc4" stroke-width="1.5" stroke-linejoin="round"/>
</g>
<g>
<rect x="265.1" y="164.9" width="233.30" height="10.60" fill="#d9d9d9"/>
<rect x="265.1" y="175.5" width="233.30" height="113.60" fill="#ebebeb"/>
<text class="st" x="381.75" y="172" text-anchor="middle">Chain 2</text>
<line x1="302.15" y1="175.5" x2="302.15" y2="289.1" stroke="#fff" stroke-width="0.42" stroke-opacity="0.9"/>
<line x1="357.85" y1="175.5" x2="357.85" y2="289.1" stroke="#fff" stroke-width="0.42" stroke-opacity="0.9"/>
<line x1="413.55" y1="175.5" x2="413.55" y2="289.1" stroke="#fff" stroke-width="0.42" stroke-opacity="0.9"/>
<line x1="469.25" y1="175.5" x2="469.25" y2="289.1" stroke="#fff" stroke-width="0.42" stroke-opacity="0.9"/>
<line x1="265.1" y1="278.35" x2="498.4" y2="278.35" stroke="#fff" stroke-width="0.42" stroke-opacity="0.9"/>
<line x1="265.1" y1="249.05" x2="498.4" y2="249.05" stroke="#fff" stroke-width="0.42" stroke-opacity="0.9"/>
<line x1="265.1" y1="219.75" x2="498.4" y2="219.75" stroke="#fff" stroke-width="0.42" stroke-opacity="0.9"/>
<line x1="265.1" y1="190.45" x2="498.4" y2="190.45" stroke="#fff" stroke-width="0.42" stroke-opacity="0.9"/>
<line x1="274.30" y1="175.5" x2="274.30" y2="289.1" stroke="#fff" stroke-width="0.8"/>
<line x1="274.30" y1="289.1" x2="274.30" y2="291.0" stroke="#333" stroke-width="0.6"/>
<text class="gt" x="274.30" y="296.70" text-anchor="middle">0</text>
<line x1="330.00" y1="175.5" x2="330.00" y2="289.1" stroke="#fff" stroke-width="0.8"/>
<line x1="330.00" y1="289.1" x2="330.00" y2="291.0" stroke="#333" stroke-width="0.6"/>
<text class="gt" x="330.00" y="296.70" text-anchor="middle">3000</text>
<line x1="385.70" y1="175.5" x2="385.70" y2="289.1" stroke="#fff" stroke-width="0.8"/>
<line x1="385.70" y1="289.1" x2="385.70" y2="291.0" stroke="#333" stroke-width="0.6"/>
<text class="gt" x="385.70" y="296.70" text-anchor="middle">6000</text>
<line x1="441.40" y1="175.5" x2="441.40" y2="289.1" stroke="#fff" stroke-width="0.8"/>
<line x1="441.40" y1="289.1" x2="441.40" y2="291.0" stroke="#333" stroke-width="0.6"/>
<text class="gt" x="441.40" y="296.70" text-anchor="middle">9000</text>
<line x1="497.10" y1="175.5" x2="497.10" y2="289.1" stroke="#fff" stroke-width="0.8"/>
<line x1="497.10" y1="289.1" x2="497.10" y2="291.0" stroke="#333" stroke-width="0.6"/>
<text class="gt" x="497.10" y="296.70" text-anchor="middle">12000</text>
<line x1="265.1" y1="263.70" x2="498.4" y2="263.70" stroke="#fff" stroke-width="0.8"/>
<line x1="265.1" y1="234.40" x2="498.4" y2="234.40" stroke="#fff" stroke-width="0.8"/>
<line x1="265.1" y1="205.10" x2="498.4" y2="205.10" stroke="#fff" stroke-width="0.8"/>
<line x1="265.1" y1="263.9" x2="498.4" y2="263.9" stroke="#8a8a8a" stroke-width="1.7"/>
<polyline points="275.40,273.00 279.64,189.60 283.89,258.60 288.13,236.80 292.38,256.00 296.62,260.50 300.86,262.00 305.11,258.00 309.35,254.50 313.60,258.60 317.84,256.60 322.08,262.70 326.33,262.00 330.57,253.20 334.82,257.50 339.06,258.40 343.30,258.20 347.55,257.00 351.79,254.80 356.04,256.50 360.28,258.20 364.52,257.50 368.77,255.50 373.01,256.50 377.26,260.20 381.50,260.60 385.74,257.50 389.99,258.50 394.23,260.90 398.48,262.80 402.72,264.30 406.96,263.00 411.21,261.60 415.45,262.20 419.70,258.90 423.94,256.40 428.18,255.50 432.43,255.50 436.67,254.10 440.92,255.50 445.16,254.10 449.40,253.80 453.65,250.50 457.89,247.00 462.14,248.60 466.38,252.00 470.62,258.20 474.87,261.50 479.11,262.00 483.36,262.00 487.60,260.70" fill="none" stroke="#f8766d" stroke-width="1.45" stroke-dasharray="4.8 4.75" stroke-linejoin="round"/>
<polyline points="275.40,284.50 279.64,235.20 283.89,262.00 288.13,257.30 292.38,262.70 296.62,263.10 300.86,262.00 305.11,263.40 309.35,262.70 313.60,263.40 317.84,262.70 322.08,264.10 326.33,264.10 330.57,260.30 334.82,260.20 339.06,259.20 343.30,258.50 347.55,258.40 351.79,256.30 356.04,257.20 360.28,259.20 364.52,259.40 368.77,259.40 373.01,259.50 377.26,261.50 381.50,263.00 385.74,263.10 389.99,263.20 394.23,263.50 398.48,263.90 402.72,264.00 406.96,263.50 411.21,263.00 415.45,262.60 419.70,262.30 423.94,262.20 428.18,262.10 432.43,262.00 436.67,261.90 440.92,262.00 445.16,261.90 449.40,261.60 453.65,261.30 457.89,260.80 462.14,261.20 466.38,262.20 470.62,263.40 474.87,263.60 479.11,263.70 483.36,263.80 487.60,263.80" fill="none" stroke="#00bfc4" stroke-width="1.5" stroke-linejoin="round"/>
</g>
<line x1="26.5" y1="263.70" x2="28.4" y2="263.70" stroke="#333" stroke-width="0.6"/>
<text class="gt" x="25.6" y="265.45" text-anchor="end">1.00</text>
<line x1="26.5" y1="234.40" x2="28.4" y2="234.40" stroke="#333" stroke-width="0.6"/>
<text class="gt" x="25.6" y="236.15" text-anchor="end">1.01</text>
<line x1="26.5" y1="205.10" x2="28.4" y2="205.10" stroke="#333" stroke-width="0.6"/>
<text class="gt" x="25.6" y="206.85" text-anchor="end">1.02</text>
<text class="gb" transform="translate(12.1,232.6) rotate(-90)" text-anchor="middle">Shrink Factor</text>
<text class="gb" x="263.2" y="303.5" text-anchor="middle">Last Iteration in Chain</text>
<text x="508" y="224.1" font-size="6.3" fill="#111" stroke="#111" stroke-width="0.12">Quantile</text>
<rect x="508.2" y="227.8" width="9.5" height="19.6" fill="#f2f2f2"/>
<line x1="508.9" y1="232.95" x2="513.6" y2="232.95" stroke="#f8766d" stroke-width="1.45"/>
<line x1="508.9" y1="243.1" x2="516.7" y2="243.1" stroke="#00bfc4" stroke-width="1.5"/>
<text class="gt" x="521" y="234.75" fill="#111">97.5%</text>
<text class="gt" x="521" y="244.9" fill="#111">median</text>
</g></svg></body></html>
